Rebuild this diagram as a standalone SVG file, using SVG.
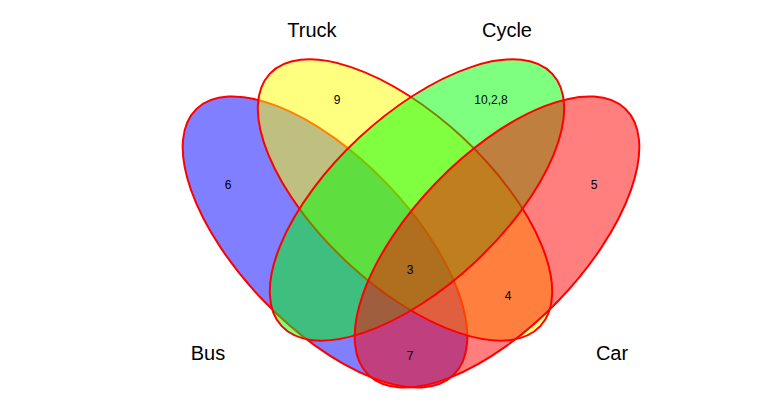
<svg xmlns="http://www.w3.org/2000/svg" width="782" height="409" viewBox="0 0 782 409">
<style>
.e{stroke:#ff0000;stroke-width:2;fill-opacity:0.5}
.t{font-family:"Liberation Sans",Arial,sans-serif;font-size:20px;text-anchor:middle;fill:#000}
.n{font-family:"Liberation Sans",Arial,sans-serif;font-size:12px;text-anchor:middle;fill:#000}
</style>
<rect width="782" height="409" fill="#fff"/>
<g id="bus"><ellipse class="e" fill="#0000ff" cx="325" cy="242" rx="185" ry="85" transform="rotate(46 325 242)"/></g>
<g id="truck"><ellipse class="e" fill="#ffff00" cx="405" cy="200" rx="185" ry="85" transform="rotate(43 405 200)"/></g>
<g id="cycle"><ellipse class="e" fill="#00ff00" cx="417" cy="200" rx="185" ry="85" transform="rotate(-43 417 200)"/></g>
<g id="car"><ellipse class="e" fill="#ff0000" cx="497" cy="242" rx="185" ry="85" transform="rotate(-46 497 242)"/></g>
<g id="labels">
<text class="t" x="312" y="37">Truck</text>
<text class="t" x="507" y="37">Cycle</text>
<text class="t" x="208" y="360">Bus</text>
<text class="t" x="612" y="360">Car</text>
<text class="n" x="228" y="189">6</text>
<text class="n" x="337" y="104">9</text>
<text class="n" x="491" y="104">10,2,8</text>
<text class="n" x="594" y="189">5</text>
<text class="n" x="410" y="274">3</text>
<text class="n" x="508" y="300">4</text>
<text class="n" x="410" y="360">7</text>
</g>
</svg>
